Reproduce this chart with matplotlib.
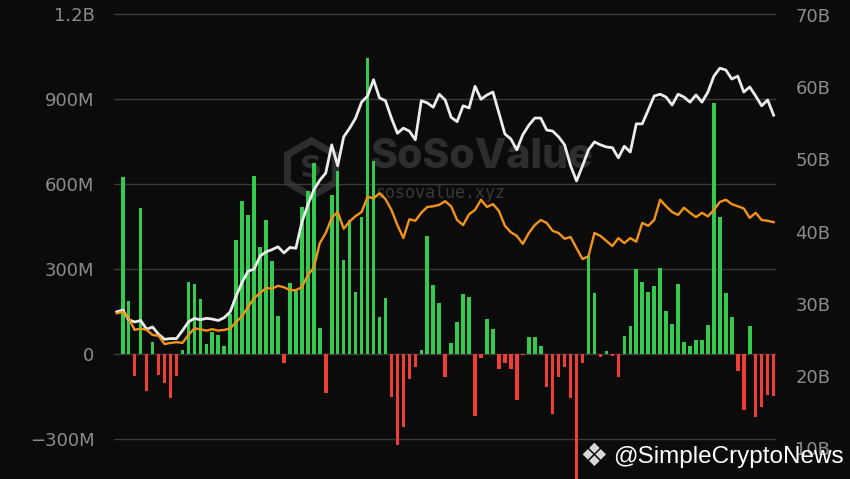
import numpy as np
import matplotlib.pyplot as plt
from matplotlib.lines import Line2D

# daily net inflow, millions USD (one bar per trading day)
net_inflow = [
    627, 189, -75, 516, -128, 42, -72, -100, -155, -75,
    15, 254, 247, 196, 37, 79, 67, 31, 142, 403,
    540, 492, 630, 380, 476, 331, 135, -31, 251, 224,
    521, 577, 674, 92, -135, 562, 648, 332, 473, 221,
    485, 1045, 682, 133, 198, -150, -320, -256, -88, -45,
    15, 418, 244, 183, -79, 39, 113, 213, 201, -219,
    -14, 124, 90, -50, -32, -53, -160, -3, 60, 61,
    31, -115, -212, -79, -46, -155, -480, -32, 348, 216,
    -8, 11, -7, -79, 65, 100, 301, 256, 221, 240,
    305, 152, 107, 250, 44, 28, 49, 49, 103, 886,
    486, 216, 131, -60, -195, 100, -220, -185, -142, -147,
]

# total net assets (billions), one point before the first bar and one per bar
total_assets = [
    28.9, 29.15, 27.8, 27.5, 27.7, 26.5, 26.8, 25.8, 25.1, 25.2,
    25.2, 26.3, 27.5, 28.0, 27.8, 28.0, 27.9, 27.7, 28.1, 28.9,
    31.1, 33.0, 34.55, 34.8, 36.6, 37.2, 37.5, 37.9, 37.05, 37.8,
    37.7, 41.3, 43.7, 45.75, 47.1, 48.1, 52.0, 49.1, 53.1, 54.3,
    55.7, 57.9, 58.75, 61.0, 58.5, 58.1, 55.7, 53.6, 54.3, 53.9,
    52.7, 58.1, 57.8, 57.2, 59.0, 58.2, 55.8, 55.2, 57.4, 57.1,
    60.1, 58.3, 58.9, 59.3, 56.4, 53.5, 52.8, 51.3, 53.4, 54.7,
    55.7, 55.7, 54.05, 53.9, 53.1, 52.0, 49.1, 47.0, 49.1, 51.3,
    52.4, 52.0, 51.7, 51.6, 50.2, 51.8, 51.0, 54.9, 54.9, 56.8,
    58.75, 59.0, 58.6, 57.5, 59.0, 58.6, 57.9, 58.9, 57.9, 59.3,
    61.5, 62.6, 62.35, 61.1, 61.5, 59.3, 60.0, 58.75, 57.4, 58.2,
    56.1,
]

# second series (billions), same points as above
other_assets = [
    28.7, 28.9, 28.0, 26.4, 26.6, 26.4, 25.7, 25.6, 24.45, 24.6,
    24.7, 24.6, 25.7, 26.6, 26.5, 26.3, 26.5, 26.3, 26.4, 26.6,
    27.5, 28.3, 29.6, 30.8, 31.5, 32.2, 32.1, 32.5, 32.3, 31.9,
    31.9, 32.3, 34.0, 35.0, 38.4, 39.8, 41.9, 42.7, 40.4, 41.4,
    42.15, 42.7, 44.8, 44.6, 45.3, 44.5, 43.0, 40.9, 39.1, 41.7,
    41.5, 42.6, 43.4, 43.5, 43.7, 44.2, 43.5, 41.6, 40.9, 42.4,
    43.0, 44.4, 43.4, 43.8, 42.85, 40.8, 39.9, 39.4, 38.3, 39.8,
    40.9, 41.6, 41.2, 40.1, 39.8, 39.0, 39.25, 37.7, 36.2, 36.6,
    39.8, 39.4, 38.7, 38.0, 39.1, 38.4, 39.1, 38.6, 41.2, 40.8,
    41.6, 44.4, 43.5, 42.7, 42.3, 43.3, 42.6, 42.0, 42.6, 42.1,
    43.0, 44.1, 44.4, 43.8, 43.5, 43.2, 41.9, 42.6, 41.6, 41.5,
    41.3,
]

left_ticks = [-300, 0, 300, 600, 900, 1200]
left_labels = ["\u2212300M", "0", "300M", "600M", "900M", "1.2B"]
right_ticks = [10, 20, 30, 40, 50, 60, 70]
right_labels = ["10B", "20B", "30B", "40B", "50B", "60B", "70B"]

BG = "#0b0b0b"
GREEN = "#34c94f"
RED = "#ee3e36"
TICK = "#8c8c8c"
MARK = "#2d2d2d"

fig = plt.figure(figsize=(8.5, 4.79), dpi=100, facecolor=BG)
ax = fig.add_axes([114 / 850, 0, 662 / 850, 1])
ax.set_facecolor(BG)

x = np.arange(len(net_inflow))
vals = np.array(net_inflow)
colors = [GREEN if v >= 0 else RED for v in vals]
ax.bar(x, vals, width=0.6, color=colors, zorder=2)

ax.set_xlim(-1.46, 109.4)
ax.set_ylim(-440, 1251)
ax.set_yticks(left_ticks)
ax.set_yticklabels(left_labels)
ax.grid(axis="y", color="#3a3a3a", linewidth=1.0, zorder=0)
ax.set_xticks([])
ax.tick_params(axis="y", length=0, pad=14, labelsize=13, labelcolor=TICK)
for s in ax.spines.values():
    s.set_visible(False)

# watermark (behind the marks)
ax.text(0.436, 0.672, "SoSoValue", transform=fig.transFigure, fontsize=29.5,
        fontweight="heavy", family="Inter", color=MARK, ha="left",
        va="center", zorder=1)
ax.text(0.441, 0.597, "sosovalue.xyz", transform=fig.transFigure, fontsize=12,
        family="DejaVu Sans Mono", color="#383838",
        ha="left", va="center", zorder=1)
logo = Line2D([311 / 850], [1 - 168 / 479], marker="h", markersize=40,
              markerfacecolor="none", markeredgecolor=MARK,
              markeredgewidth=5, transform=fig.transFigure, zorder=1)
ax.add_artist(logo)
logo.set_transform(fig.transFigure)
ax.text(311 / 850, 1 - 168 / 479, "S", transform=fig.transFigure, fontsize=22,
        fontweight="bold", color=MARK, ha="center", va="center", zorder=1)

ax2 = ax.twinx()
xl = np.arange(-1, len(net_inflow))
ax2.plot(xl, total_assets, color="#ececec", linewidth=2.0, zorder=3)
ax2.plot(xl, other_assets, color="#f39419", linewidth=1.7, zorder=3)
ax2.set_ylim(5.78, 72.03)
ax2.set_yticks(right_ticks)
ax2.set_yticklabels(right_labels)
ax2.tick_params(axis="y", length=0, pad=14, labelsize=13, labelcolor=TICK)
for s in ax2.spines.values():
    s.set_visible(False)

fig.text(594 / 850, 1 - 457 / 479, "\u2756", fontsize=23, color="#d8d8d8",
         ha="center", va="center", family="DejaVu Sans")
fig.text(613 / 850, 1 - 457 / 479, "@SimpleCryptoNews", fontsize=17.5,
         color="white", ha="left", va="center", family="Liberation Sans")

fig.savefig("out.png", dpi=100, facecolor=BG)
